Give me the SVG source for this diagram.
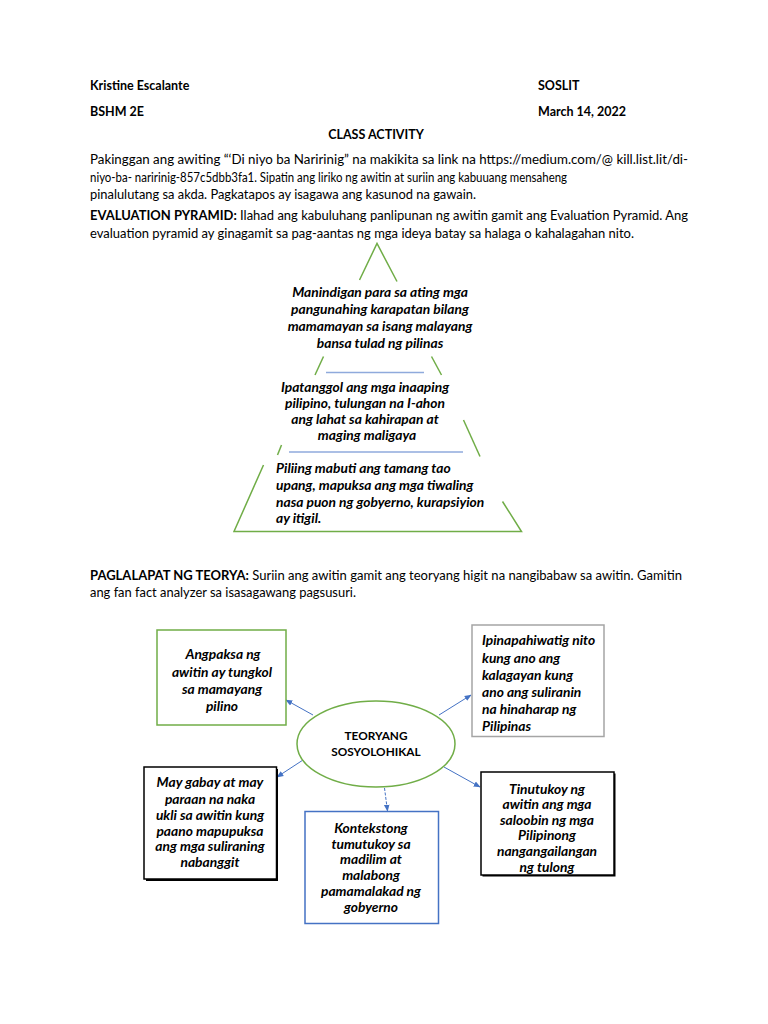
<svg xmlns="http://www.w3.org/2000/svg" width="768" height="1024" viewBox="0 0 768 1024">
<style>
text{font-family:Lato,"Open Sans","Liberation Sans",sans-serif;fill:#000}
.b{font-weight:bold;font-size:12.5px}
.r{font-size:12.5px}
.bi{font-weight:bold;font-style:italic;font-size:13.8px}
.e{font-weight:bold;font-size:11.8px}
.c{text-anchor:middle}
.g{stroke:#70AD47;stroke-width:1.5;fill:none}
.lb{stroke:#8FAADC;stroke-width:1.3;fill:none}
.ar{stroke:#4472C4;stroke-width:1;fill:none;marker-end:url(#ah)}
</style>
<defs>
<marker id="ah" viewBox="0 0 10 10" refX="9" refY="5" markerWidth="7" markerHeight="7" orient="auto">
<path d="M0,1 L10,5 L0,9 Z" fill="#4472C4"/>
</marker>
</defs>
<rect width="768" height="1024" fill="#fff"/>
<g id="header">
<text class="b" x="90" y="90">Kristine Escalante</text>
<text class="b" x="538" y="90">SOSLIT</text>
<text class="b" x="90" y="116">BSHM 2E</text>
<text class="b" x="538" y="116">March 14, 2022</text>
<text class="b c" x="376" y="139">CLASS ACTIVITY</text>
<text class="r" x="90" y="164" textLength="598" lengthAdjust="spacingAndGlyphs">Pakinggan ang awiting “‘Di niyo ba Naririnig” na makikita sa link na https://medium.com/@ kill.list.lit/di-</text>
<text class="r" x="90" y="182" textLength="477" lengthAdjust="spacingAndGlyphs">niyo-ba- naririnig-857c5dbb3fa1. Sipatin ang liriko ng awitin at suriin ang kabuuang mensaheng</text>
<text class="r" x="90" y="199" textLength="386" lengthAdjust="spacingAndGlyphs">pinalulutang sa akda. Pagkatapos ay isagawa ang kasunod na gawain.</text>
<text class="r" x="90" y="220" textLength="598" lengthAdjust="spacingAndGlyphs"><tspan font-weight="bold">EVALUATION PYRAMID:</tspan> Ilahad ang kabuluhang panlipunan ng awitin gamit ang Evaluation Pyramid. Ang</text>
<text class="r" x="90" y="238" textLength="544" lengthAdjust="spacingAndGlyphs">evaluation pyramid ay ginagamit sa pag-aantas ng mga ideya batay sa halaga o kahalagahan nito.</text>
<text class="r" x="90" y="580" textLength="592" lengthAdjust="spacingAndGlyphs"><tspan font-weight="bold">PAGLALAPAT NG TEORYA:</tspan> Suriin ang awitin gamit ang teoryang higit na nangibabaw sa awitin. Gamitin</text>
<text class="r" x="90" y="597" textLength="266" lengthAdjust="spacingAndGlyphs">ang fan fact analyzer sa isasagawang pagsusuri.</text>
</g>
<g id="pyramid">
<polyline class="g" points="359.5,280 377,243.5 397,281.5"/>
<line class="g" x1="323.5" y1="356.5" x2="315" y2="375"/>
<line class="g" x1="431.5" y1="356.5" x2="441.5" y2="375"/>
<line class="lb" x1="326" y1="372.5" x2="424" y2="372.5"/>
<line class="g" x1="281.5" y1="445" x2="277.5" y2="455"/>
<line class="g" x1="463.5" y1="420" x2="480" y2="456.5"/>
<line class="lb" x1="289" y1="452" x2="463" y2="452"/>
<polyline class="g" points="263.5,465 234,531.5 521.5,531.5 502.5,501.5"/>
<text class="bi c" x="380" y="297">Manindigan para sa ating mga</text>
<text class="bi c" x="380" y="314">pangunahing karapatan bilang</text>
<text class="bi c" x="380" y="331">mamamayan sa isang malayang</text>
<text class="bi c" x="380" y="348">bansa tulad ng pilinas</text>
<text class="bi c" x="365" y="392">Ipatanggol ang mga inaaping</text>
<text class="bi c" x="365" y="408">pilipino, tulungan na I-ahon</text>
<text class="bi c" x="365" y="424">ang lahat sa kahirapan at</text>
<text class="bi c" x="367" y="440">maging maligaya</text>
<text class="bi" x="276" y="473">Piliing mabuti ang tamang tao</text>
<text class="bi" x="276" y="490">upang, mapuksa ang mga tiwaling</text>
<text class="bi" x="276" y="507">nasa puon ng gobyerno, kurapsiyion</text>
<text class="bi" x="276" y="523">ay itigil.</text>
</g>
<g id="connectors">
<line class="ar" x1="313" y1="715" x2="286" y2="700"/>
<line class="ar" x1="439" y1="715" x2="471" y2="695"/>
<line class="ar" x1="303" y1="760" x2="277" y2="777"/>
<line class="ar" x1="384.5" y1="788" x2="387.5" y2="811" stroke-dasharray="3,1.5"/>
<line class="ar" x1="444" y1="767" x2="480" y2="787"/>
</g>
<g id="center">
<ellipse cx="376" cy="744" rx="79" ry="43" fill="#fff" stroke="#70AD47" stroke-width="1.5"/>
<text class="e c" x="376" y="740">TEORYANG</text>
<text class="e c" x="376" y="756">SOSYOLOHIKAL</text>
</g>
<g id="box1">
<rect x="157" y="630" width="129" height="95" fill="#fff" stroke="#70AD47" stroke-width="1.5"/>
<text class="bi c" x="223" y="659">Angpaksa ng</text>
<text class="bi c" x="222" y="677">awitin ay tungkol</text>
<text class="bi c" x="222" y="694">sa mamayang</text>
<text class="bi c" x="222" y="711">pilino</text>
</g>
<g id="box2">
<rect x="472" y="625" width="132" height="111.5" fill="#fff" stroke="#A5A5A5" stroke-width="1.5"/>
<text class="bi" x="482" y="645">Ipinapahiwatig nito</text>
<text class="bi" x="482" y="663">kung ano ang</text>
<text class="bi" x="482" y="680">kalagayan kung</text>
<text class="bi" x="482" y="697">ano ang suliranin</text>
<text class="bi" x="482" y="714">na hinaharap ng</text>
<text class="bi" x="482" y="731">Pilipinas</text>
</g>
<g id="box3">
<rect x="146" y="769" width="132" height="112" fill="#000"/>
<rect x="144" y="767" width="132.5" height="112" fill="#fff" stroke="#000" stroke-width="1.5"/>
<text class="bi c" x="210" y="787">May gabay at may</text>
<text class="bi c" x="210" y="803.5">paraan na naka</text>
<text class="bi c" x="210" y="819.5">ukli sa awitin kung</text>
<text class="bi c" x="210" y="835.5">paano mapupuksa</text>
<text class="bi c" x="210" y="851">ang mga suliraning</text>
<text class="bi c" x="210" y="867">nabanggit</text>
</g>
<g id="box4">
<rect x="305" y="811.5" width="133.5" height="112" fill="#fff" stroke="#4472C4" stroke-width="1.5"/>
<text class="bi c" x="371" y="832.5">Kontekstong</text>
<text class="bi c" x="371" y="848.5">tumutukoy sa</text>
<text class="bi c" x="371" y="864">madilim at</text>
<text class="bi c" x="371" y="880">malabong</text>
<text class="bi c" x="371" y="896">pamamalakad ng</text>
<text class="bi c" x="371" y="911.5">gobyerno</text>
</g>
<g id="box5">
<rect x="482.5" y="773.5" width="133" height="103" fill="#000"/>
<rect x="481" y="772" width="133" height="103" fill="#fff" stroke="#000" stroke-width="1.5"/>
<text class="bi c" x="547" y="793.5">Tinutukoy ng</text>
<text class="bi c" x="547" y="809">awitin ang mga</text>
<text class="bi c" x="547" y="824.5">saloobin ng mga</text>
<text class="bi c" x="547" y="840">Pilipinong</text>
<text class="bi c" x="547" y="856">nangangailangan</text>
<text class="bi c" x="547" y="871.5">ng tulong</text>
</g>
</svg>
